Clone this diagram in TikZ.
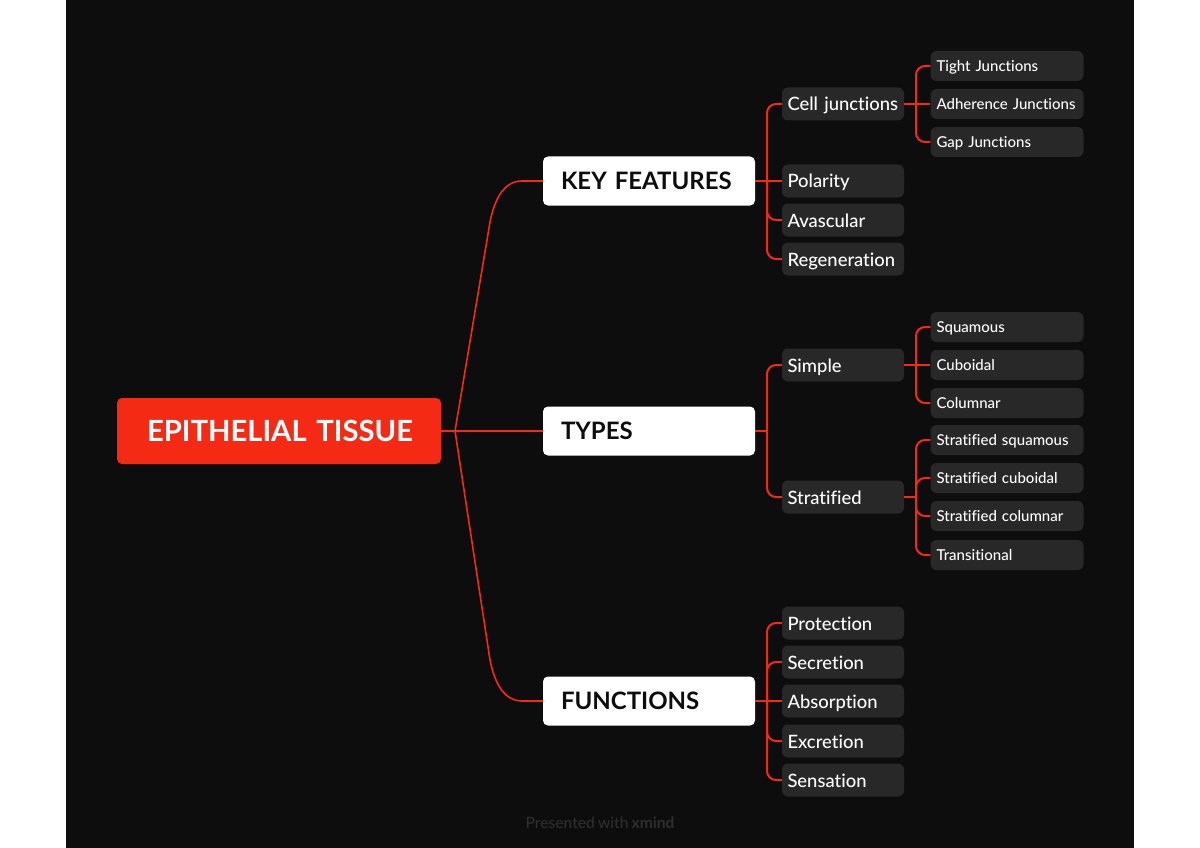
\documentclass[tikz,border=0pt]{standalone}
\usepackage{fontspec}
\setmainfont{Lato Medium}[BoldFont={Lato Bold},Ligatures=NoCommon,WordSpace=0.8]
\definecolor{pagebg}{HTML}{0D0D0E}
\definecolor{redc}{HTML}{F42A15}
\definecolor{leafc}{HTML}{282828}
\definecolor{footc}{HTML}{2E2E2E}
\tikzset{
 rootbox/.style={draw=none,fill=redc,rounded corners=5pt,minimum width=324pt,minimum height=66pt,text width=264pt,inner xsep=30pt,inner ysep=0pt,text height=21pt,text depth=0pt,align=left,text=white,font=\fontsize{29.2}{32}\selectfont\bfseries},
 mainbox/.style={fill=white,rounded corners=5pt,minimum width=212pt,minimum height=49pt,text width=176pt,inner xsep=18pt,inner ysep=0pt,text height=17pt,text depth=0pt,align=left,text=pagebg,font=\fontsize{24}{28}\selectfont\bfseries},
 subbox/.style={fill=leafc,rounded corners=6pt,minimum width=122pt,minimum height=33pt,text width=111pt,inner xsep=5.5pt,inner ysep=0pt,text height=14pt,text depth=0pt,align=left,text=white,font=\fontsize{18.4}{22}\selectfont},
 leafbox/.style={fill=leafc,rounded corners=6pt,minimum width=153pt,minimum height=30pt,text width=141pt,inner xsep=6pt,inner ysep=0pt,text height=11.5pt,text depth=0pt,align=left,text=white,font=\fontsize{15}{18}\selectfont},
 conn/.style={draw=redc,line width=2pt,rounded corners=9pt},
 rootconn/.style={draw=redc,line width=1.6pt},
}
\begin{document}
\begin{tikzpicture}[x=1pt,y=-1pt]
\useasboundingbox (0,0) rectangle (1200,848);
\fill[white] (0,0) rectangle (1200,848);
\fill[pagebg] (66,0) rectangle (1134,848);
\node[rootbox] (root) at (279,431) {\mbox{EPITHELIAL TISSUE}};
\node[mainbox] (kf) at (649,181) {KEY FEATURES};
\node[mainbox] (ty) at (649,431) {TYPES};
\node[mainbox] (fn) at (649,701) {FUNCTIONS};
\node[subbox] (cell) at (843,104) {\mbox{Cell junctions}};
\node[subbox] (pol) at (843,181) {Polarity};
\node[subbox] (ava) at (843,220) {Avascular};
\node[subbox] (reg) at (843,259) {\mbox{Regeneration}};
\node[subbox] (sim) at (843,365) {Simple};
\node[subbox] (str) at (843,497) {Stratified};
\node[subbox] (pro) at (843,623) {Protection};
\node[subbox] (sec) at (843,662) {Secretion};
\node[subbox] (abs) at (843,701) {Absorption};
\node[subbox] (exc) at (843,741) {Excretion};
\node[subbox] (sen) at (843,780) {Sensation};
\node[leafbox] (tig) at (1007,66) {Tight Junctions};
\node[leafbox] (adh) at (1007,104) {\mbox{Adherence Junctions}};
\node[leafbox] (gap) at (1007,142) {Gap Junctions};
\node[leafbox] (squ) at (1007,327) {Squamous};
\node[leafbox] (cub) at (1007,365) {Cuboidal};
\node[leafbox] (col) at (1007,403) {Columnar};
\node[leafbox] (ssq) at (1007,440) {Stratified squamous};
\node[leafbox] (scu) at (1007,478) {Stratified cuboidal};
\node[leafbox] (sco) at (1007,516) {Stratified columnar};
\node[leafbox] (tra) at (1007,555) {Transitional};
\node[text=footc,font=\fontsize{15.6}{18}\selectfont] (foot) at (600,822.5) {Presented with \textbf{xmind}};
% root connectors
\coordinate (rj) at (455,431);
\draw[rootconn] (root.east) -- (ty.west);
\draw[rootconn] (rj) -- (490,222) .. controls (495,197) and (505,181) .. (522,181) -- (kf.west);
\draw[rootconn] (rj) -- (490,660) .. controls (495,685) and (505,701) .. (522,701) -- (fn.west);
% key features
\coordinate (kj) at (767,181);
\draw[conn] (kf.east) -- (pol.west);
\draw[conn] (kj) |- (cell.west);
\draw[conn] (kj) |- (ava.west);
\draw[conn] (kj) |- (reg.west);
% types
\coordinate (tj) at (767,431);
\draw[conn] (ty.east) -- (tj);
\draw[conn] (tj) |- (sim.west);
\draw[conn] (tj) |- (str.west);
% functions
\coordinate (fj) at (767,701);
\draw[conn] (fn.east) -- (abs.west);
\draw[conn] (fj) |- (pro.west);
\draw[conn] (fj) |- (sec.west);
\draw[conn] (fj) |- (exc.west);
\draw[conn] (fj) |- (sen.west);
% cell
\coordinate (cj) at (916,104);
\draw[conn] (cell.east) -- (adh.west);
\draw[conn] (cj) |- (tig.west);
\draw[conn] (cj) |- (gap.west);
% simple
\coordinate (sj) at (916,365);
\draw[conn] (sim.east) -- (cub.west);
\draw[conn] (sj) |- (squ.west);
\draw[conn] (sj) |- (col.west);
% stratified
\coordinate (tj2) at (916,497);
\draw[conn] (str.east) -- (tj2);
\draw[conn] (tj2) |- (ssq.west);
\draw[conn] (tj2) |- (scu.west);
\draw[conn] (tj2) |- (sco.west);
\draw[conn] (tj2) |- (tra.west);
\end{tikzpicture}
\end{document}
